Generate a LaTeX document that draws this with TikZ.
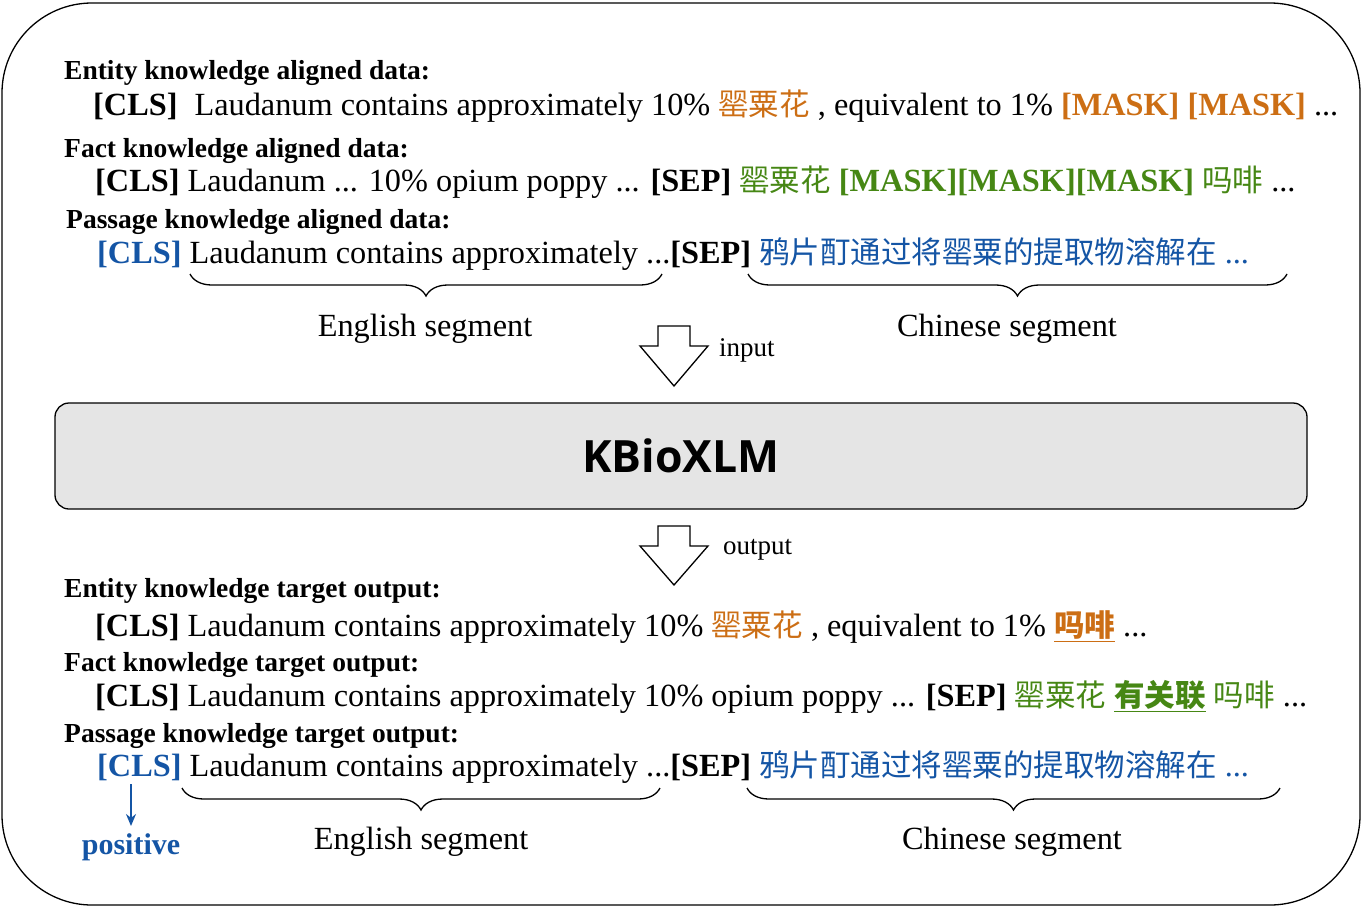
\documentclass[tikz,border=0pt]{standalone}
\usepackage{fontspec}
\setmainfont{Liberation Serif}
\newfontfamily\cjk{Noto Sans CJK SC}
\newfontfamily\kb{Open Sans}
\usetikzlibrary{decorations.pathreplacing,shapes.arrows,arrows.meta}
\definecolor{oc}{RGB}{204,110,20}
\definecolor{gc}{RGB}{70,135,20}
\definecolor{bc}{RGB}{20,85,165}
\tikzset{
 head/.style={anchor=west,inner sep=0,font=\fontsize{27.5}{30}\selectfont\bfseries},
 body/.style={anchor=west,inner sep=0,font=\fontsize{32.3}{36}\selectfont},
 lab/.style={inner sep=0,font=\fontsize{32.3}{36}\selectfont},
 brc/.style={decorate,decoration={brace,mirror,amplitude=22pt},line width=1.3pt},
 harrow/.style={draw,line width=1.3pt,fill=white}
}
\newcommand{\zh}[1]{{\cjk\fontsize{30.5}{34}\selectfont #1}}
\begin{document}
\begin{tikzpicture}[x=1pt,y=-1pt]
\useasboundingbox (0,0) rectangle (1363,908);
\draw[line width=1.3pt,rounded corners=90] (2,3) rectangle (1360,905);
% top
\node[head] (h1) at (64,73) {Entity knowledge aligned data:};
\node[body] (l1) at (93,106) {\textbf{[CLS]}\; Laudanum contains approximately 10\% \textcolor{oc}{\zh{罂粟花}} , equivalent to 1\% \textcolor{oc}{\textbf{[MASK] [MASK]}} ...};
\node[head] (h2) at (64,151) {Fact knowledge aligned data:};
\node[body] (l2) at (95,182) {\textbf{[CLS]} Laudanum ... 10\% opium poppy ... \textbf{[SEP]} \textcolor{gc}{\zh{罂粟花} \textbf{[MASK][MASK][MASK]} \zh{吗啡}} ...};
\node[head] (h3) at (66,222) {Passage knowledge aligned data:};
\node[body] (l3) at (97,254) {\textcolor{bc}{\textbf{[CLS]}} Laudanum contains approximately ...\textbf{[SEP]} \textcolor{bc}{\zh{鸦片酊通过将罂粟的提取物溶解在} ...}};
\coordinate (e1a) at (190,274); \coordinate (e1b) at (662,274);
\coordinate (c1a) at (748,274); \coordinate (c1b) at (1287,274);
\draw[brc] (e1a) -- (e1b);
\draw[brc] (c1a) -- (c1b);
\node[lab] (en1) at (425,329) {English segment};
\node[lab] (cn1) at (1007,329) {Chinese segment};
% input arrow
\draw[harrow] (658,326) -- (690,326) -- (690,346) -- (708,346) -- (674,386) -- (640,346) -- (658,346) -- cycle;
\node[lab,anchor=west,font=\fontsize{27}{30}\selectfont] (in) at (719,350) {input};
% model
\node[draw,line width=1.3pt,fill=black!10,rounded corners=14,minimum width=1252pt,minimum height=106pt,font=\kb\fontsize{44.5}{48}\selectfont\bfseries] (m) at (681,456) {KBioXLM};
% output arrow
\draw[harrow] (658,526) -- (690,526) -- (690,546) -- (708,546) -- (674,585) -- (640,546) -- (658,546) -- cycle;
\node[lab,anchor=west,font=\fontsize{27}{30}\selectfont] (out) at (723,550) {output};
% bottom
\node[head] (h4) at (64,591) {Entity knowledge target output:};
\node[body] (l4) at (95,627) {\textbf{[CLS]} Laudanum contains approximately 10\% \textcolor{oc}{\zh{罂粟花}} , equivalent to 1\% \textcolor{oc}{\underline{\zh{\bfseries 吗啡}}} ...};
\node[head] (h5) at (64,665) {Fact knowledge target output:};
\node[body] (l5) at (95,697) {\textbf{[CLS]} Laudanum contains approximately 10\% opium poppy ... \textbf{[SEP]} \textcolor{gc}{\zh{罂粟花} \underline{\zh{\bfseries 有关联}} \zh{吗啡}} ...};
\node[head] (h6) at (64,736) {Passage knowledge target output:};
\node[body] (l6) at (97,767) {\textcolor{bc}{\textbf{[CLS]}} Laudanum contains approximately ...\textbf{[SEP]} \textcolor{bc}{\zh{鸦片酊通过将罂粟的提取物溶解在} ...}};
\draw[brc] (182,788) -- (660,788);
\draw[brc] (747,788) -- (1280,788);
\node[lab] (en2) at (421,842) {English segment};
\node[lab] (cn2) at (1012,842) {Chinese segment};
\coordinate (cls) at (131,784);
\node[inner sep=0,text=bc,font=\fontsize{30}{34}\selectfont\bfseries] (pos) at (131,847) {positive};
\draw[bc,line width=1.8pt,-{Stealth[length=12pt,width=10pt]}] (cls) -- (131,826);
\end{tikzpicture}
\end{document}
